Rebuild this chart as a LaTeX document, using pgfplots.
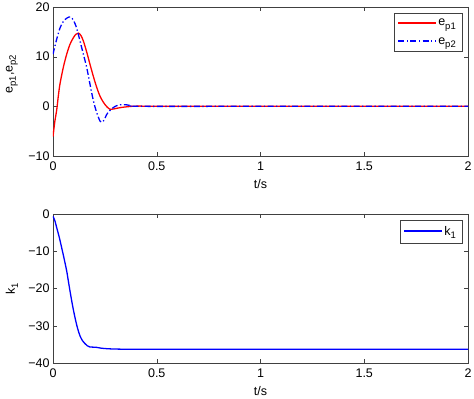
\documentclass[border=0pt]{standalone}
\usepackage{fontspec}
\setmainfont{Liberation Sans}
\usepackage{pgfplots}
\pgfplotsset{compat=1.18}
\newcommand\sub[1]{\raisebox{-0.5ex}{\fontsize{9.5}{10}\selectfont #1}}
\newcommand\dd{\rule{6pt}{1.3pt}\hspace{2.5pt}\rule{1.3pt}{1.3pt}\hspace{2.5pt}}
\pgfplotsset{
  mystyle/.style={
    scale only axis, width=415pt, height=149pt,
    axis line style={black!75}, tick style={black!75},
    tick align=inside, major tick length=4pt,
    xtick pos=both, ytick pos=both,
    xmin=0, xmax=2,
    xtick={0,0.5,1,1.5,2}, xticklabels={0,0.5,1,1.5,2},
    tick label style={font=\fontsize{12.5}{14}\selectfont},
    xticklabel style={yshift=-2pt},
    label style={font=\fontsize{12.5}{14}\selectfont},
    xlabel={t/s},
    xlabel style={at={(axis description cs:0.5,-0.185)}, anchor=center},
    legend style={font=\fontsize{12.5}{14}\selectfont, draw=black!75, fill=white,
      at={(1,1)}, anchor=north east, xshift=-6pt, yshift=-6pt,
      inner xsep=4pt, inner ysep=4pt},
    legend cell align=left,
  }
}
\begin{document}
\begin{tikzpicture}
\useasboundingbox (0pt,0pt) rectangle (474pt,399pt);
\begin{axis}[mystyle, at={(53pt,243pt)}, anchor=south west,
  ymin=-10, ymax=20, ytick={-10,0,10,20}, yticklabels={−10,0,10,20},
  ylabel={e\sub{p1},e\sub{p2}},
  ylabel style={at={(axis description cs:-0.099,0.55)}, anchor=center, rotate=0},
  legend style={row sep=6pt}]
\addplot[color=red, line width=1.3pt, smooth,
  legend image code/.code={\node[inner sep=0pt, anchor=west] at (0pt,0pt) {\textcolor{red}{\rule[-0.65pt]{38pt}{1.3pt}}};}] coordinates {
(0,-6.1)(0.009,-3.0)(0.018,-0.7)(0.026,2.2)(0.034,4.6)(0.05,7.9)(0.066,10.5)(0.082,12.5)(0.098,13.8)(0.11,14.5)(0.122,14.75)(0.134,14.3)(0.146,13.2)(0.162,11.0)(0.178,8.5)(0.194,6.1)(0.21,3.9)(0.226,2.1)(0.243,0.8)(0.26,-0.1)(0.275,-0.6)(0.29,-0.55)(0.307,-0.4)(0.33,-0.22)(0.355,-0.1)(0.38,0)(0.42,0.05)(0.5,0)(1,0)(2,0)};
\addlegendentry{e\sub{p1}}
\addplot[color=blue, line width=1.3pt, smooth, dash pattern=on 6pt off 2.5pt on 1.3pt off 2.5pt,
  legend image code/.code={\node[inner sep=0pt, anchor=west] at (0pt,0pt) {\textcolor{blue}{\raisebox{-0.65pt}{\dd\dd\dd\rule{1.3pt}{1.3pt}}}};}] coordinates {
(0,10.5)(0.017,13.4)(0.034,15.8)(0.05,17.1)(0.068,17.8)(0.085,18.0)(0.1,17.2)(0.112,16.0)(0.122,14.5)(0.142,11.2)(0.162,7.9)(0.178,4.5)(0.194,1.25)(0.21,-1.2)(0.227,-3.0)(0.237,-3.2)(0.247,-2.7)(0.258,-1.7)(0.27,-1.0)(0.283,-0.5)(0.3,0)(0.323,0.3)(0.355,0.3)(0.38,0.1)(0.42,0)(1,0)(2,0)};
\addlegendentry{e\sub{p2}}
\end{axis}
\begin{axis}[mystyle, at={(53pt,36pt)}, anchor=south west,
  ymin=-40, ymax=0, ytick={-40,-30,-20,-10,0}, yticklabels={−40,−30,−20,−10,0},
  ylabel={k\sub{1}},
  ylabel style={at={(axis description cs:-0.099,0.5)}, anchor=center, rotate=0}]
\addplot[color=blue, line width=1.3pt, smooth,
  legend image code/.code={\node[inner sep=0pt, anchor=west] at (0pt,0pt) {\textcolor{blue}{\rule[-0.65pt]{38pt}{1.3pt}}};}] coordinates {
(0,-0.6)(0.009,-1.8)(0.018,-3.7)(0.03,-6.2)(0.042,-9.1)(0.054,-12.1)(0.066,-15.3)(0.074,-18)(0.082,-20.7)(0.094,-24.5)(0.106,-27.8)(0.118,-30.6)(0.13,-32.7)(0.142,-34.0)(0.154,-34.8)(0.166,-35.4)(0.178,-35.7)(0.195,-35.75)(0.21,-35.8)(0.23,-36.0)(0.258,-36.15)(0.3,-36.25)(0.4,-36.3)(1,-36.3)(2,-36.3)};
\addlegendentry{k\sub{1}}
\end{axis}
\end{tikzpicture}
\end{document}
